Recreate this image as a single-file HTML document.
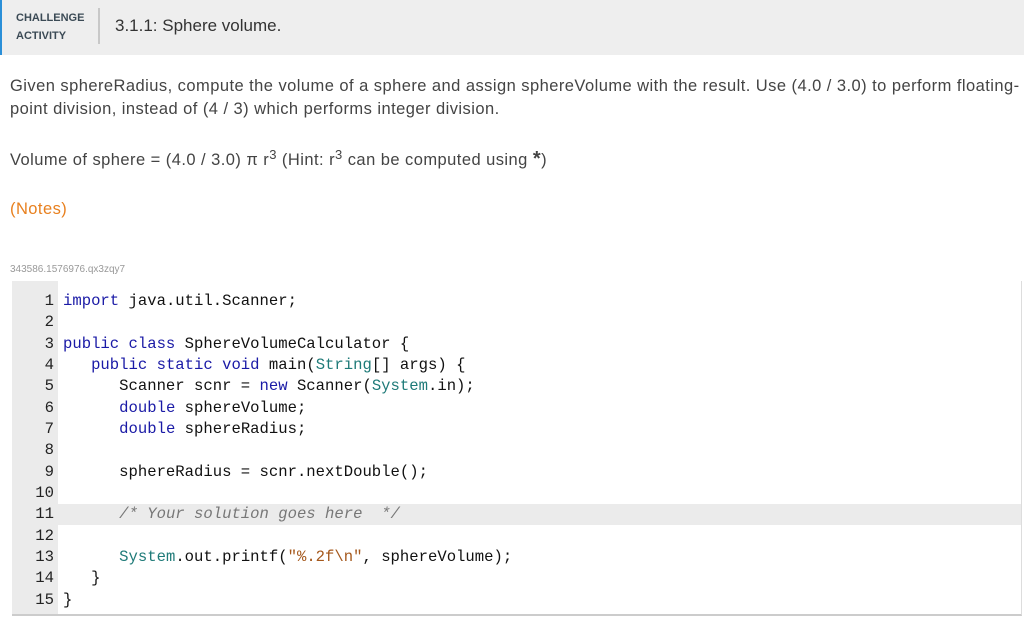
<!DOCTYPE html>
<html><head><meta charset="utf-8"><style>
body{margin:0;width:1024px;height:617px;background:#fff;font-family:"Liberation Sans",sans-serif;position:relative;overflow:hidden}
.hdr{position:absolute;left:0;top:0;width:1024px;height:55px;background:#eeeeee;border-left:2px solid #2a8fd8;box-sizing:border-box}
.ca{position:absolute;left:14px;top:9px;font-size:11px;font-weight:bold;color:#3b4a55;line-height:18px}
.sep{position:absolute;left:96px;top:8px;width:2px;height:36px;background:#c8c8c8}
.ttl{position:absolute;left:113px;top:16px;font-size:17px;color:#333}
.p{position:absolute;left:10px;font-size:16.5px;letter-spacing:0.45px;color:#444;line-height:24px;white-space:nowrap}
.code{position:absolute;left:12px;top:281px;width:1010px;height:335px;border-bottom:2px solid #ccc;border-right:1px solid #ddd;box-sizing:border-box}
.gut{position:absolute;left:0;top:0;width:46px;height:333px;background:#ebebeb}
.ln{position:absolute;left:0;width:42px;text-align:right;font-family:"Liberation Mono",monospace;font-size:15.6px;color:#222}
.cl{position:absolute;left:51px;font-family:"Liberation Mono",monospace;font-size:15.6px;color:#111;white-space:pre}
.k{color:#1a1aa6}.t{color:#1e7a78}.s{color:#a5581c}.c{color:#777;font-style:italic}
.hl{position:absolute;left:46px;top:223px;width:963px;height:21px;background:#ebebeb}
sup{font-size:13px;vertical-align:6px;line-height:0}
</style></head><body>
<div class="hdr"><div class="ca">CHALLENGE<br>ACTIVITY</div><div class="sep"></div><div class="ttl">3.1.1: Sphere volume.</div></div>
<div class="p" style="top:74px">Given sphereRadius, compute the volume of a sphere and assign sphereVolume with the result. Use (4.0 / 3.0) to perform floating-</div>
<div class="p" style="top:97px">point division, instead of (4 / 3) which performs integer division.</div>
<div class="p" style="top:147px">Volume of sphere = (4.0 / 3.0) π r<sup>3</sup> (Hint: r<sup>3</sup> can be computed using <b style="font-size:20px">*</b>)</div>
<div class="p" style="top:197px;color:#e8801f">(Notes)</div>
<div style="position:absolute;left:10px;top:264px;font-size:10px;color:#999">343586.1576976.qx3zqy7</div>
<div class="code">
<div class="gut"></div><div class="hl"></div>
<div class="ln" style="top:11px">1</div><div class="ln" style="top:32px">2</div><div class="ln" style="top:54px">3</div><div class="ln" style="top:75px">4</div><div class="ln" style="top:96px">5</div><div class="ln" style="top:118px">6</div><div class="ln" style="top:139px">7</div><div class="ln" style="top:160px">8</div><div class="ln" style="top:182px">9</div><div class="ln" style="top:203px">10</div><div class="ln" style="top:224px">11</div><div class="ln" style="top:246px">12</div><div class="ln" style="top:267px">13</div><div class="ln" style="top:288px">14</div><div class="ln" style="top:310px">15</div>
<div class="cl" style="top:11px"><span class="k">import</span> java.util.Scanner;</div>
<div class="cl" style="top:54px"><span class="k">public class</span> SphereVolumeCalculator {</div>
<div class="cl" style="top:75px">   <span class="k">public static void</span> main(<span class="t">String</span>[] args) {</div>
<div class="cl" style="top:96px">      Scanner scnr = <span class="k">new</span> Scanner(<span class="t">System</span>.in);</div>
<div class="cl" style="top:118px">      <span class="k">double</span> sphereVolume;</div>
<div class="cl" style="top:139px">      <span class="k">double</span> sphereRadius;</div>
<div class="cl" style="top:182px">      sphereRadius = scnr.nextDouble();</div>
<div class="cl" style="top:224px">      <span class="c">/* Your solution goes here  */</span></div>
<div class="cl" style="top:267px">      <span class="t">System</span>.out.printf(<span class="s">"%.2f\n"</span>, sphereVolume);</div>
<div class="cl" style="top:288px">   }</div>
<div class="cl" style="top:310px">}</div>
</div>
</body></html>
